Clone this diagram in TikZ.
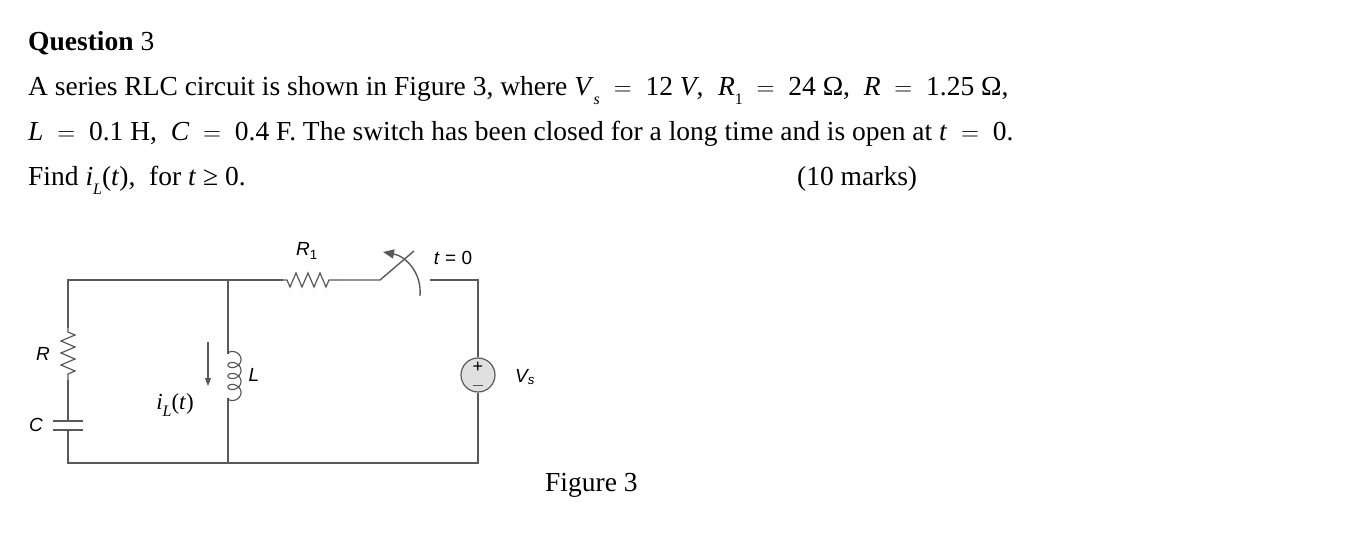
\documentclass[tikz,border=0pt]{standalone}
\usepackage{fontspec}
\setmainfont{Liberation Serif}
\setsansfont{Liberation Sans}
\usetikzlibrary{arrows.meta}
\newcommand{\sbs}[1]{\raisebox{-0.3em}{\fontsize{16}{16}\selectfont #1}}
\newcommand{\eqs}{\;\;=\;\;}
\begin{document}
\begin{tikzpicture}[x=1pt,y=-1pt,
  txt/.style={anchor=base west,inner sep=0,font=\fontsize{27.5}{30}\selectfont},
  lab/.style={inner sep=0,font=\sffamily\itshape\fontsize{19}{22}\selectfont},
  wire/.style={draw=black!65,line width=1.4pt}]
\useasboundingbox (0,0) rectangle (1368,548);
\node[txt,font=\bfseries\fontsize{27.5}{30}\selectfont] (q) at (28,51) {Question \mdseries 3};
\node[txt] (l1) at (28,96) {A series RLC circuit is shown in Figure 3, where \textit{V}\sbs{\textit{s}}$\eqs$12 \textit{V}, \;\textit{R}\sbs{1}$\eqs$24 Ω, \ \textit{R}$\eqs$1.25 Ω,};
\node[txt] (l2) at (28,141) {\textit{L}$\eqs$0.1 H, \ \textit{C}$\eqs$0.4 F. The switch has been closed for a long time and is open at \textit{t}$\eqs$0.};
\node[txt] (l3) at (28,186) {Find \textit{i}\sbs{\textit{L}}(\textit{t}), \ for \textit{t}$\;$≥$\;$0.};
\node[txt] (mk) at (797,186) {(10 marks)};
\node[txt] (fig) at (545,491) {Figure 3};
\coordinate (tl) at (68,280); \coordinate (tm) at (228,280); \coordinate (tr) at (478,280);
\coordinate (bl) at (68,463); \coordinate (bm) at (228,463); \coordinate (br) at (478,463);
\coordinate (r1a) at (283,280); \coordinate (r1b) at (336,280);
\coordinate (swa) at (380,280); \coordinate (swb) at (414,251); \coordinate (swc) at (430,280);
\coordinate (ra) at (68,328); \coordinate (rb) at (68,380);
\coordinate (ca) at (68,421); \coordinate (cb) at (68,430);
\coordinate (la) at (228,354); \coordinate (lb) at (228,398);
\node[circle,draw=black!65,fill=black!12,line width=1.2pt,minimum size=34pt,inner sep=0] (vs) at (478,375) {};
\draw[wire] (cb) -- (bl) -- (bm) -- (br) -- (vs.south);
\draw[wire] (vs.north) -- (tr) -- (swc);
\draw[wire] (rb) -- (ca);
\draw[wire] (ra) -- (tl) -- (r1a);
\draw[wire] (r1b) -- (swa) -- (swb);
\draw[wire] (tm) -- (la); \draw[wire] (lb) -- (bm);
\draw[wire,line width=1.2pt] (r1a) -- ++(4,0) -- ++(3,7) -- ++(6,-14) -- ++(6,14) -- ++(6,-14) -- ++(6,14) -- ++(6,-14) -- ++(6,14) -- ++(3,-7) -- (r1b);
\draw[wire,line width=1.2pt] (ra) -- ++(0,4) -- ++(7,3) -- ++(-14,6) -- ++(14,6) -- ++(-14,6) -- ++(14,6) -- ++(-14,6) -- ++(14,6) -- ++(-7,3) -- (rb);
\draw[wire] (53,421) -- (83,421); \draw[wire] (53,430) -- (83,430);
\draw[wire,line width=1.2pt,domain=0:1440,samples=160,smooth,variable=\t] plot ({228+6.5-6.5*cos(\t)},{354+11*\t/360-5*sin(\t)});
\draw[draw=black!65,line width=1.4pt,-{Triangle[length=11pt,width=9pt]}] (420,296) .. controls (422,272) and (405,256) .. (383,252);
\node[inner sep=0,font=\sffamily\fontsize{18}{18}\selectfont] (pl) at (478,367) {+};
\draw[draw=black!65,line width=1pt] (473,385) -- (483,385);
\draw[draw=black!65,line width=1.4pt,-{Triangle[length=8pt,width=6pt]}] (208,342) -- (208,386);
\node[lab] (lr1) at (307,251) {R\textsubscript{\upshape 1}};
\node[lab,font=\sffamily\fontsize{19}{22}\selectfont] (lt) at (453,258) {\textit{t} = 0};
\node[lab] (lR) at (43,354) {R};
\node[lab] (lC) at (36,425) {C};
\node[lab] (lL) at (254,375) {L};
\node[lab] (lV) at (525,377) {V\textsubscript{s}};
\node[inner sep=0,font=\fontsize{23}{23}\selectfont] (li) at (175,405) {\textit{i}\sbs{\textit{L}}(\textit{t})};
\end{tikzpicture}
\end{document}
